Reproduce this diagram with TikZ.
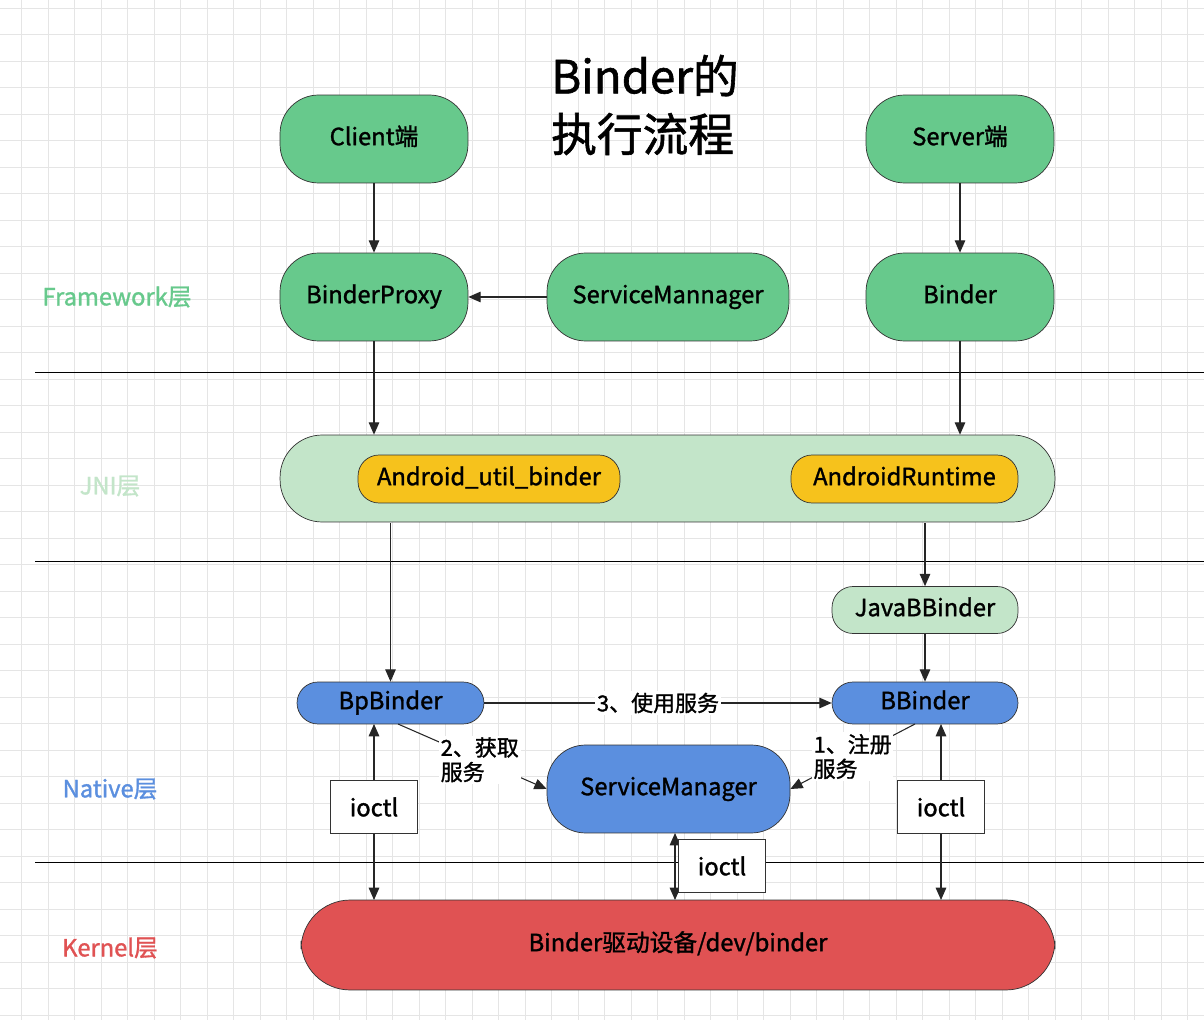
\documentclass[tikz,border=0pt]{standalone}
\usepackage{fontspec}
\setmainfont{Noto Sans CJK SC}[FakeBold=1.3]
\usetikzlibrary{arrows.meta}
\definecolor{fwgreen}{HTML}{67C98C}
\definecolor{jnigreen}{HTML}{C3E5C9}
\definecolor{ngold}{HTML}{F6C21C}
\definecolor{nblue}{HTML}{5B8FDF}
\definecolor{kred}{HTML}{E05253}
\tikzset{
  px/.style={x=0.02cm,y=-0.02cm},
  pill/.style={draw=black!80, rounded corners=#1, font=\fontsize{13.5}{16}\selectfont, inner sep=0pt, text height=1.45ex, text depth=0.15ex},
  fw/.style={pill=22pt, fill=fwgreen, minimum width=3.76cm, minimum height=1.76cm},
  small/.style={pill=12pt, minimum height=0.9cm},
  box/.style={draw=black!80, fill=white, font=\fontsize{13.5}{16}\selectfont, minimum width=1.75cm, minimum height=1.05cm, inner sep=0pt},
  arr/.style={draw=black!85, line width=0.6pt, -{Triangle[length=7pt,width=6pt]}},
  darr/.style={draw=black!85, line width=0.6pt, {Triangle[length=7pt,width=6pt]}-{Triangle[length=7pt,width=6pt]}},
  layer/.style={font=\fontsize{13.5}{16}\selectfont},
  lbl/.style={font=\fontsize{12.5}{14}\selectfont, fill=white, inner sep=1pt, align=left}
}
\begin{document}
\begin{tikzpicture}[px]
\useasboundingbox (0,0) rectangle (1204,1020);
\fill[white] (0,0) rectangle (1204,1020);
% grid
\foreach \i in {0,...,46} \draw[black!10] (\i*26.5-5,0) -- (\i*26.5-5,1020);
\foreach \i in {0,...,39} \draw[black!10] (0,\i*26.5+8) -- (1204,\i*26.5+8);
% layer separators
\draw[black] (35,372) -- (1204,372);
\draw[black] (35,561) -- (1204,561);
\draw[black] (35,862) -- (1204,862);
% title
\node[font=\fontsize{26}{33}\selectfont, align=left] (title) at (645,105) {Binder的\\执行流程};
% layer labels
\node[layer, text=fwgreen] (lfw) at (117,297) {Framework层};
\node[layer, text=jnigreen] (ljni) at (110,486) {JNI层};
\node[layer, text=nblue] (lnat) at (110,789) {Native层};
\node[layer, text=kred] (lker) at (110,948) {Kernel层};
% framework
\node[fw] (client) at (374,139) {Client端};
\node[fw] (server) at (960,139) {Server端};
\node[fw] (proxy) at (374,297) {BinderProxy};
\node[fw, minimum width=4.84cm] (smgr) at (668,297) {ServiceMannager};
\node[fw] (binder) at (960,297) {Binder};
% JNI
\node[pill=24pt, fill=jnigreen, minimum width=15.5cm, minimum height=1.74cm] (jni) at (667.5,478.5) {};
\node[small, fill=ngold, minimum width=5.24cm, minimum height=0.96cm] (aub) at (489,479) {Android\_util\_binder};
\node[small, fill=ngold, minimum width=4.54cm, minimum height=0.96cm] (art) at (904.5,479) {AndroidRuntime};
% native
\node[small, fill=jnigreen, minimum width=3.72cm, minimum height=0.94cm] (jbb) at (925,610) {JavaBBinder};
\node[small, fill=nblue, minimum width=3.74cm, minimum height=0.84cm] (bp) at (390.5,703) {BpBinder};
\node[small, fill=nblue, minimum width=3.72cm, minimum height=0.84cm] (bb) at (925,703) {BBinder};
\node[pill=22pt, fill=nblue, minimum width=4.86cm, minimum height=1.76cm] (sm) at (668.5,789) {ServiceManager};
% kernel
\node[pill=28pt, fill=kred, minimum width=15.08cm, minimum height=1.8cm] (ker) at (678,945) {Binder驱动设备/dev/binder};
% framework edges
\draw[arr] (client) -- (proxy);
\draw[arr] (server) -- (binder);
\draw[arr] (smgr) -- (proxy);
\draw[arr] (proxy) -- (proxy|-jni.north);
\draw[arr] (binder) -- (binder|-jni.north);
% jni to native
\coordinate (j1) at (390.5,523);
\coordinate (j2) at (925,523);
\draw[arr] (j1) -- (bp);
\draw[arr] (j2) -- (jbb);
\draw[arr] (jbb) -- (bb);
% native edges
\draw[arr] (bp) -- node[lbl] {3、使用服务} (bb);
\coordinate (b1) at (398,724);
\coordinate (b2) at (915,724);
\draw[arr] (b1) -- node[lbl, pos=0.55] {2、获取\\服务} (sm.west);
\draw[arr] (b2) -- node[lbl, pos=0.5] {1、注册\\服务} (sm.east);
% ioctl
\coordinate (k1) at (374,900);
\coordinate (k2) at (941,900);
\coordinate (k3) at (675,900);
\coordinate (s3) at (675,833);
\draw[darr] (374,724) -- (k1);
\draw[darr] (941,724) -- (k2);
\draw[darr] (s3) -- (k3);
\node[box] (io1) at (374,807) {ioctl};
\node[box] (io2) at (941,807) {ioctl};
\node[box] (io3) at (722,866) {ioctl};
\end{tikzpicture}
\end{document}
